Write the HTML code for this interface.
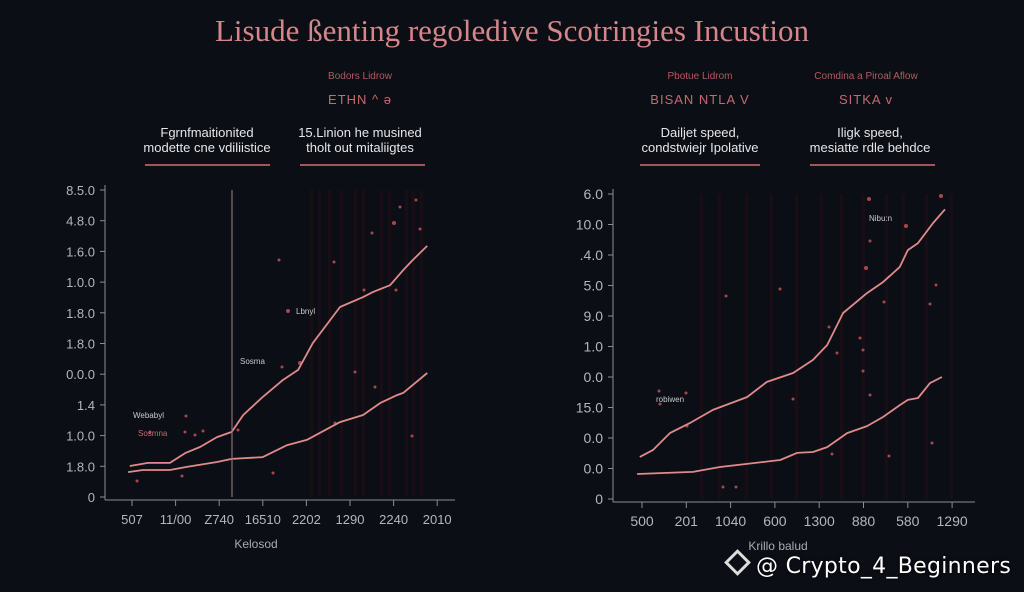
<!DOCTYPE html>
<html><head><meta charset="utf-8">
<style>
html,body{margin:0;padding:0;background:#0c0e15;}
#root{position:relative;width:1024px;height:592px;overflow:hidden;background:#0c0e15;font-family:"Liberation Sans",sans-serif;}
.t{position:absolute;white-space:nowrap;transform:translateX(-50%);text-align:center;}
.hdr{color:#b8575e;font-size:10px;}
.hdr2{color:#c46a70;font-size:13px;letter-spacing:1px;}
.cap{color:#e6e6ea;font-size:13px;line-height:15px;}
.ul{position:absolute;height:2px;background:#a8535a;}
</style></head>
<body>
<div id="root">
<div class="t" style="left:512px;top:13px;font-family:'Liberation Serif',serif;font-size:31px;color:#d5868b;">Lisude ßenting regoledive Scotringies Incustion</div>

<div class="t hdr" style="left:360px;top:71px;">Bodors Lidrow</div>
<div class="t hdr2" style="left:360px;top:92px;">ETHN ^ ə</div>
<div class="t cap" style="left:207px;top:125px;">Fgrnfmaitionited<br>modette cne vdiliistice</div>
<div class="t cap" style="left:360px;top:125px;">15.Linion he musined<br>tholt out mitaliigtes</div>
<div class="ul" style="left:145px;top:164px;width:125px;"></div>
<div class="ul" style="left:300px;top:164px;width:125px;"></div>

<div class="t hdr" style="left:700px;top:71px;">Pbotue Lidrom</div>
<div class="t hdr2" style="left:700px;top:92px;">BISAN NTLA V</div>
<div class="t hdr" style="left:866px;top:71px;">Comdina a Piroal Aflow</div>
<div class="t hdr2" style="left:866px;top:92px;">SITKA v</div>
<div class="t cap" style="left:700px;top:125px;">Dailjet speed,<br>condstwiejr Ipolative</div>
<div class="t cap" style="left:870px;top:125px;">Iligk speed,<br>mesiatte rdle behdce</div>
<div class="ul" style="left:640px;top:164px;width:120px;"></div>
<div class="ul" style="left:810px;top:164px;width:125px;"></div>

<svg id="svg" width="1024" height="592" style="position:absolute;left:0;top:0"></svg>

<div style="position:absolute;left:728px;top:553px;color:#fff;font-family:'DejaVu Sans',sans-serif;font-size:22px;letter-spacing:0.3px;text-shadow:0 0 3px #000;white-space:nowrap;">
<span style="display:inline-block;width:13px;height:13px;border:3px solid #ddd;transform:rotate(45deg);margin-right:9px;vertical-align:1px;"></span>@ Crypto_4_Beginners</div>
</div>
<script>
// Left chart data
const leftTicksX = ["507","11/00","Z740","16510","2202","1290","2240","2010"];
const leftTicksY = ["0","1.8.0","1.0.0","1.4","0.0.0","1.8.0","1.8.0","1.0.0","1.6.0","4.8.0","8.5.0"];
const leftUpperX = [-0.05,0.37,0.87,1.22,1.56,1.95,2.29,2.55,3.0,3.46,3.81,4.15,4.77,5.3,5.53,5.92,6.22,6.44,6.77];
const leftUpperY = [1.01,1.11,1.11,1.43,1.63,1.95,2.12,2.67,3.26,3.81,4.14,5.02,6.19,6.51,6.68,6.9,7.39,7.72,8.18];
const leftLowerX = [-0.09,0.25,0.87,1.26,1.95,2.29,3.0,3.56,4.01,4.77,5.3,5.69,6.08,6.22,6.77];
const leftLowerY = [0.81,0.88,0.88,0.98,1.14,1.24,1.30,1.69,1.86,2.44,2.67,3.06,3.32,3.39,4.04];
// Right chart data
const rightTicksX = ["500","201","1040","600","1300","880","580","1290"];
const rightTicksY = ["0","0.0","0.0","15.0","0.0","1.0","9.0","5.0",".4.0","10.0","6.0"];
const rightUpperX = [-0.05,0.25,0.63,1.08,1.6,2.37,2.82,3.41,3.86,4.18,4.54,5.08,5.44,5.82,6.0,6.23,6.57,6.84];
const rightUpperY = [1.38,1.61,2.16,2.49,2.92,3.34,3.84,4.13,4.56,5.05,6.1,6.75,7.11,7.61,8.16,8.39,9.05,9.5];
const rightLowerX = [-0.11,0.41,1.15,1.76,2.37,3.12,3.5,3.86,4.18,4.63,5.08,5.44,5.82,6.0,6.23,6.5,6.77];
const rightLowerY = [0.82,0.85,0.89,1.05,1.15,1.28,1.51,1.54,1.7,2.16,2.39,2.69,3.08,3.25,3.31,3.8,4.0];

const NS="http://www.w3.org/2000/svg";
const svg=document.getElementById('svg');
function mk(tag,attrs,parent){const e=document.createElementNS(NS,tag);for(const k in attrs)e.setAttribute(k,attrs[k]);(parent||svg).appendChild(e);return e;}

function drawChart(c){
  const g=mk('g',{});
  
  
  const sx=i=>c.x0+i*c.dx;
  const sy=v=>c.y0-v*c.dy;
  for(let k=0;k<c.stripes.length;k++){
    const s=mk('rect',{x:c.stripes[k],y:c.y0-10*c.dy,width:3,height:10*c.dy,fill:'#3a1218',opacity:0.3},g);
    
    
  }
  c.dots.forEach(d=>{
    const dot=mk('circle',{cx:d[0],cy:d[1],r:d[2]||1.5,fill:'#d0555c',opacity:0.8},g);
    
    
  });
  const ya=mk('line',{x1:c.ax,y1:c.y0-10*c.dy-5,x2:c.ax,y2:c.y0+3,stroke:'#8a8d96','stroke-width':1},g);
  
  
  const xa=mk('line',{x1:c.ax,y1:c.y0+3,x2:c.xEnd,y2:c.y0+3,stroke:'#8a8d96','stroke-width':1},g);
  
  
  c.ticksY.forEach((t,i)=>{
    const y=sy(i);
    const tl=mk('line',{x1:c.ax-5,y1:y,x2:c.ax,y2:y,stroke:'#8a8d96'},g);
    
    
    const tx=mk('text',{x:c.ax-10,y:y+5,'text-anchor':'end',fill:'#b4b6bd','font-size':c.fs,'font-family':'Liberation Sans, sans-serif'},g);
    tx.textContent=t;
    
    
  });
  c.ticksX.forEach((t,i)=>{
    const x=sx(i);
    const tl=mk('line',{x1:x,y1:c.y0+3,x2:x,y2:c.y0+9,stroke:'#8a8d96'},g);
    
    
    const tx=mk('text',{x:x,y:c.y0+27,'text-anchor':'middle',fill:'#b4b6bd','font-size':c.fs,'font-family':'Liberation Sans, sans-serif'},g);
    tx.textContent=t;
    
    
  });
  const xt=mk('text',{x:c.xTitleX,y:c.y0+51,'text-anchor':'middle',fill:'#a9abb2','font-size':12,'font-family':'Liberation Sans, sans-serif'},g);
  xt.textContent=c.xTitle;
  
  
  c.series.forEach((s,si)=>{
    const pts=s.x.map((xv,i)=>sx(xv).toFixed(1)+','+sy(s.y[i]).toFixed(1)).join(' ');
    const pl=mk('polyline',{points:pts,fill:'none',stroke:'#e08a8c','stroke-width':1.8,'stroke-linejoin':'round'},g);
    
    
  });
  c.labels.forEach(l=>{
    const tx=mk('text',{x:l[1],y:l[2],fill:l[3]||'#c8c9ce','font-size':8,'font-family':'Liberation Sans, sans-serif'},g);
    tx.textContent=l[0];
    
    
  });
  return g;
}

drawChart({name:'left-chart',x0:132,dx:43.6,y0:497,dy:30.7,ax:105,xEnd:455,fs:13,
  ticksX:leftTicksX,ticksY:leftTicksY,xTitle:'Kelosod',xTitleX:256,
  series:[{x:leftUpperX,y:leftUpperY},{x:leftLowerX,y:leftLowerY}],
  stripes:[310,318,328,340,354,362,380,388,405,412,420],
  dots:[[288,311,2],[279,260],[334,262],[372,233],[400,207],[416,200],[394,223,2],[364,290],[355,372],[375,387],[300,363,2],[282,367],[203,431],[185,432],[150,432],[238,430],[186,416],[195,435],[182,476],[137,481],[412,436],[396,290],[420,229],[335,423],[273,473]],
  labels:[['Lbnyl',296,314],['Sosma',240,364],['Webabyl',133,418],['Sosmna',138,436,'#c36a70']]
});
drawChart({name:'right-chart',x0:642,dx:44.3,y0:499,dy:30.5,ax:613,xEnd:975,fs:14,
  ticksX:rightTicksX,ticksY:rightTicksY,xTitle:'Krillo balud',xTitleX:778,
  series:[{x:rightUpperX,y:rightUpperY},{x:rightLowerX,y:rightLowerY}],
  stripes:[700,718,745,770,795,820,840,862,885,902,925,950],
  dots:[[869,199,2],[941,196,2],[906,226,2],[870,241],[866,268,2],[726,296],[780,289],[829,327],[860,338],[863,350],[884,302],[863,371],[793,399],[659,391],[686,393],[660,404],[687,426],[736,487],[723,487],[837,353],[870,395],[930,304],[936,285],[889,456],[832,454],[932,443]],
  labels:[['Nibu:n',869,221],['robiwen',656,402]]
});
const vl=mk('line',{x1:232,y1:190,x2:232,y2:497,stroke:'#8a7075','stroke-width':1.2});


</script>
</body></html>
